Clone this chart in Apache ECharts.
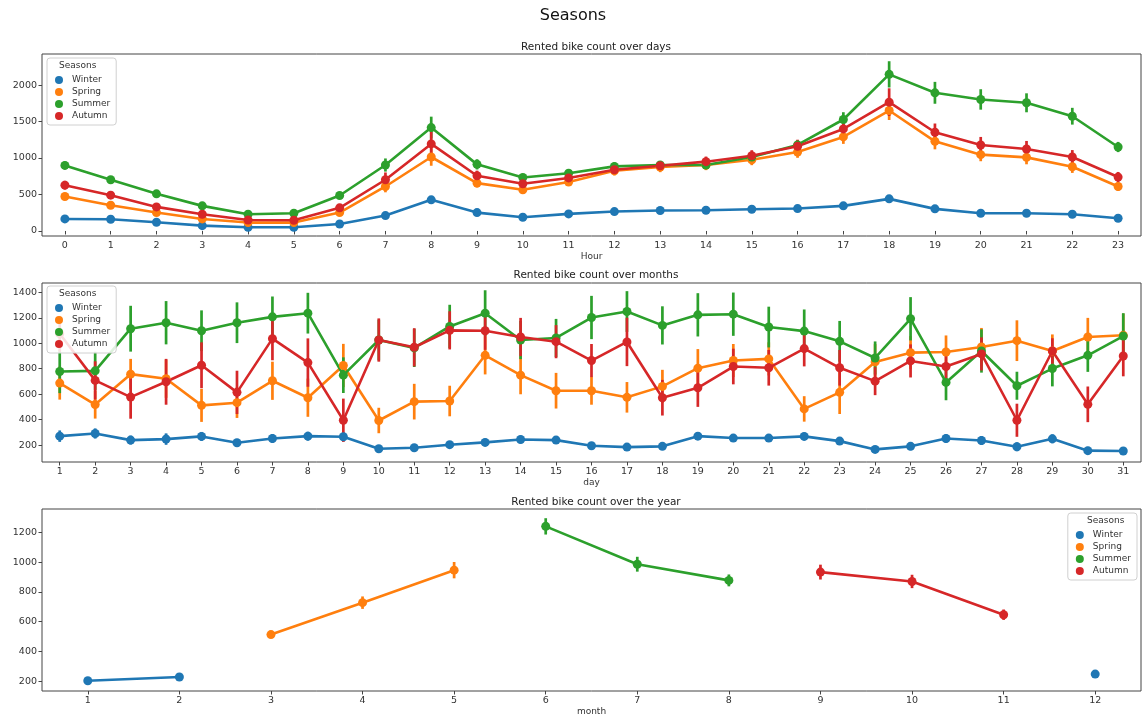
<!DOCTYPE html>
<html>
<head>
<meta charset="utf-8">
<script src="https://cdn.jsdelivr.net/npm/echarts@6/dist/echarts.min.js"></script>
<style>
html,body{margin:0;padding:0;background:#fff;}
#chart{width:1146px;height:718px;}
</style>
</head>
<body>
<div id="chart"></div>
<script>
// ---------- categories ----------
const hourCats = ['0','1','2','3','4','5','6','7','8','9','10','11','12','13','14','15','16','17','18','19','20','21','22','23'];
const dayCats = ['1','2','3','4','5','6','7','8','9','10','11','12','13','14','15','16','17','18','19','20','21','22','23','24','25','26','27','28','29','30','31'];
const monthCats = ['1','2','3','4','5','6','7','8','9','10','11','12'];
const seasons = ['Winter','Spring','Summer','Autumn'];
const seasonColors = ['#1f77b4','#ff7f0e','#2ca02c','#d62728'];

// ---------- tick labels ----------
const hourTicks = [0,500,1000,1500,2000];
const dayTicks = [200,400,600,800,1000,1200,1400];
const monthTicks = [200,400,600,800,1000,1200];

// ---------- over hours (means) ----------
const hourWinter = [165,160,119,73,50,50,96,211,427,252,188,234,266,280,284,298,307,344,440,303,243,243,229,174];
const hourSpring = [472,353,252,165,115,115,252,610,1014,656,564,672,826,876,904,977,1083,1289,1651,1229,1046,1009,881,610];
const hourSummer = [899,702,509,344,229,243,486,904,1417,913,734,792,885,904,904,1014,1179,1528,2147,1894,1803,1757,1573,1151];
const hourAutumn = [628,491,330,229,151,147,317,702,1193,757,647,727,839,894,950,1032,1161,1399,1766,1353,1179,1124,1014,739];
// ---------- over hours (CI half widths) ----------
const hourWinterErr = [20,20,15,10,8,8,10,20,40,20,15,15,15,15,15,15,15,18,25,18,15,15,15,15];
const hourSpringErr = [50,40,30,25,20,20,35,80,120,60,50,55,65,70,70,75,80,95,130,110,90,95,85,60];
const hourSummerErr = [55,45,40,25,20,20,35,90,150,70,45,50,55,55,55,60,65,100,180,150,140,130,115,70];
const hourAutumnErr = [60,50,40,30,25,25,40,100,170,70,55,55,60,60,70,75,90,120,190,120,110,110,95,70];

// ---------- over days (means) ----------
const dayWinter = [270,291,239,247,268,218,252,270,265,171,179,203,221,244,239,195,184,190,270,255,255,268,231,166,190,252,236,187,249,156,153];
const daySpring = [687,518,757,721,512,533,705,572,825,393,541,546,905,749,627,627,575,661,804,864,877,484,614,853,926,931,970,1020,939,1049,1062];
const daySummer = [778,783,1114,1161,1098,1161,1207,1236,749,1025,963,1132,1236,1025,1041,1202,1249,1140,1223,1228,1127,1095,1015,884,1192,692,939,666,801,905,1056];
const dayAutumn = [1075,708,577,697,827,614,1036,848,395,1025,968,1101,1098,1049,1012,864,1010,572,650,817,807,958,807,702,861,817,916,395,939,520,900];
// ---------- over days (CI half widths) ----------
const dayWinterErr = [45,40,35,45,35,30,35,35,35,20,25,25,30,30,30,25,25,25,30,30,30,30,30,25,30,35,35,35,35,30,25];
const daySpringErr = [130,110,120,150,130,120,150,150,170,100,140,120,150,150,140,110,120,130,150,130,130,100,170,140,130,130,150,160,130,150,170];
const daySummerErr = [170,150,180,170,160,160,160,160,140,160,150,170,180,150,150,170,160,150,170,170,160,170,160,130,170,140,170,110,140,130,180];
const dayAutumnErr = [140,150,170,180,180,170,170,190,170,170,150,150,150,150,130,130,190,140,150,140,140,140,140,110,130,140,130,130,100,140,160];

// ---------- over the year (means) ----------
const monthWinter = [202,227,null,null,null,null,null,null,null,null,null,247];
const monthSpring = [null,null,513,728,947,null,null,null,null,null,null,null];
const monthSummer = [null,null,null,null,null,1242,987,878,null,null,null,null];
const monthAutumn = [null,null,null,null,null,null,null,null,934,871,647,null];
// ---------- over the year (CI half widths) ----------
const monthWinterErr = [10,10,0,0,0,0,0,0,0,0,0,10];
const monthSpringErr = [0,0,22,42,55,0,0,0,0,0,0,0];
const monthSummerErr = [0,0,0,0,0,55,50,40,0,0,0,0];
const monthAutumnErr = [0,0,0,0,0,0,0,0,50,45,35,0];

const FONT = 'DejaVu Sans';
const grids = [
  {left:42, right:5, top:54, height:182},
  {left:42, right:5, top:283, height:179},
  {left:42, right:5, top:509, height:182}
];
const yRanges = [[-69,2426],[67,1473],[133,1359]];
const yTicks = [hourTicks, dayTicks, monthTicks];
const xCats = [hourCats, dayCats, monthCats];
const xNames = ['Hour','day','month'];

const series = [];
function addSeason(gi, name, color, vals, errs){
  const errData = [];
  vals.forEach((v,i)=>{ if(v!=null && errs[i]>0) errData.push([i, v-errs[i], v+errs[i]]); });
  series.push({
    type:'line', name:name, xAxisIndex:gi, yAxisIndex:gi, data:vals,
    symbol:'circle', symbolSize:9, showSymbol:true, showAllSymbol:true, connectNulls:false,
    lineStyle:{width:2.6, color:color}, itemStyle:{color:color}, z:3,
    emphasis:{disabled:true}
  });
  series.push({
    type:'custom', name:name, xAxisIndex:gi, yAxisIndex:gi, data:errData,
    encode:{x:0, y:[1,2]}, silent:true, z:2, itemStyle:{color:color},
    renderItem:function(params, api){
      const x = api.value(0);
      const p1 = api.coord([x, api.value(1)]);
      const p2 = api.coord([x, api.value(2)]);
      return {type:'line', shape:{x1:p1[0],y1:p1[1],x2:p2[0],y2:p2[1]}, style:{stroke:color, lineWidth:2.7}};
    }
  });
}
const hourSets = [hourWinter,hourSpring,hourSummer,hourAutumn];
const hourErrSets = [hourWinterErr,hourSpringErr,hourSummerErr,hourAutumnErr];
const daySets = [dayWinter,daySpring,daySummer,dayAutumn];
const dayErrSets = [dayWinterErr,daySpringErr,daySummerErr,dayAutumnErr];
const monthSets = [monthWinter,monthSpring,monthSummer,monthAutumn];
const monthErrSets = [monthWinterErr,monthSpringErr,monthSummerErr,monthAutumnErr];
for(let s=0;s<4;s++){
  addSeason(0, seasons[s], seasonColors[s], hourSets[s], hourErrSets[s]);
  addSeason(1, seasons[s], seasonColors[s], daySets[s], dayErrSets[s]);
  addSeason(2, seasons[s], seasonColors[s], monthSets[s], monthErrSets[s]);
}

const xAxes = grids.map((g,i)=>({
  type:'category', gridIndex:i, data:xCats[i], boundaryGap:true,
  name:xNames[i], nameLocation:'middle', nameGap:13,
  nameTextStyle:{fontFamily:FONT, fontSize:9, color:'#333'},
  axisLine:{show:false},
  axisTick:{show:true, alignWithLabel:true, length:3.5, lineStyle:{color:'#444'}},
  axisLabel:{fontFamily:FONT, fontSize:9.5, color:'#333', margin:5, interval:0},
  splitLine:{show:false}
}));
const yAxes = grids.map((g,i)=>({
  type:'value', gridIndex:i, min:yRanges[i][0], max:yRanges[i][1],
  name:'Rented Bike Count', nameLocation:'middle', nameGap:33,
  nameTextStyle:{fontFamily:FONT, fontSize:9, color:'#333'},
  axisLine:{show:false},
  axisTick:{show:true, length:3.5, lineStyle:{color:'#444'}, customValues:yTicks[i]},
  axisLabel:{fontFamily:FONT, fontSize:9.5, color:'#333', margin:5, customValues:yTicks[i], formatter:function(v){return String(v);}},
  splitLine:{show:false}
}));

function legendAt(pos){
  return Object.assign({
    orient:'vertical', data:seasons, icon:'circle', itemWidth:8, itemHeight:8, itemGap:0,
    padding:[16,6,3,8], borderColor:'#d0d0d0', borderWidth:1, borderRadius:3,
    backgroundColor:'rgba(255,255,255,0.85)',
    textStyle:{fontFamily:FONT, fontSize:9, color:'#333', lineHeight:12, padding:[0,0,0,4]},
    selectedMode:false
  }, pos);
}

const option = {
  backgroundColor:'#fff',
  animation:false,
  title:[
    {text:'Seasons', left:'center', top:3, textStyle:{fontFamily:FONT, fontSize:16, fontWeight:'normal', color:'#111'}},
    {text:'Rented bike count over days', left:591, textAlign:'center', top:37, textStyle:{fontFamily:FONT, fontSize:10.5, fontWeight:'normal', color:'#222'}},
    {text:'Rented bike count over months', left:591, textAlign:'center', top:265, textStyle:{fontFamily:FONT, fontSize:10.5, fontWeight:'normal', color:'#222'}},
    {text:'Rented bike count over the year', left:591, textAlign:'center', top:492, textStyle:{fontFamily:FONT, fontSize:10.5, fontWeight:'normal', color:'#222'}}
  ],
  grid:grids.map(g=>Object.assign({show:true, borderColor:'#444', borderWidth:1, backgroundColor:'transparent', containLabel:false, outerBoundsMode:'none'}, g)),
  xAxis:xAxes,
  yAxis:yAxes,
  legend:[
    legendAt({left:47, top:58}),
    legendAt({left:47, top:286}),
    legendAt({right:9, top:513})
  ],
  graphic:[
    {type:'text', left:59, top:61, z:100, style:{text:'Seasons', font:'9px "DejaVu Sans"', fill:'#333'}},
    {type:'text', left:59, top:289, z:100, style:{text:'Seasons', font:'9px "DejaVu Sans"', fill:'#333'}},
    {type:'text', left:1087, top:516, z:100, style:{text:'Seasons', font:'9px "DejaVu Sans"', fill:'#333'}}
  ],
  series:series
};
const chart = echarts.init(document.getElementById('chart'));
chart.setOption(option);
</script>
</body>
</html>
